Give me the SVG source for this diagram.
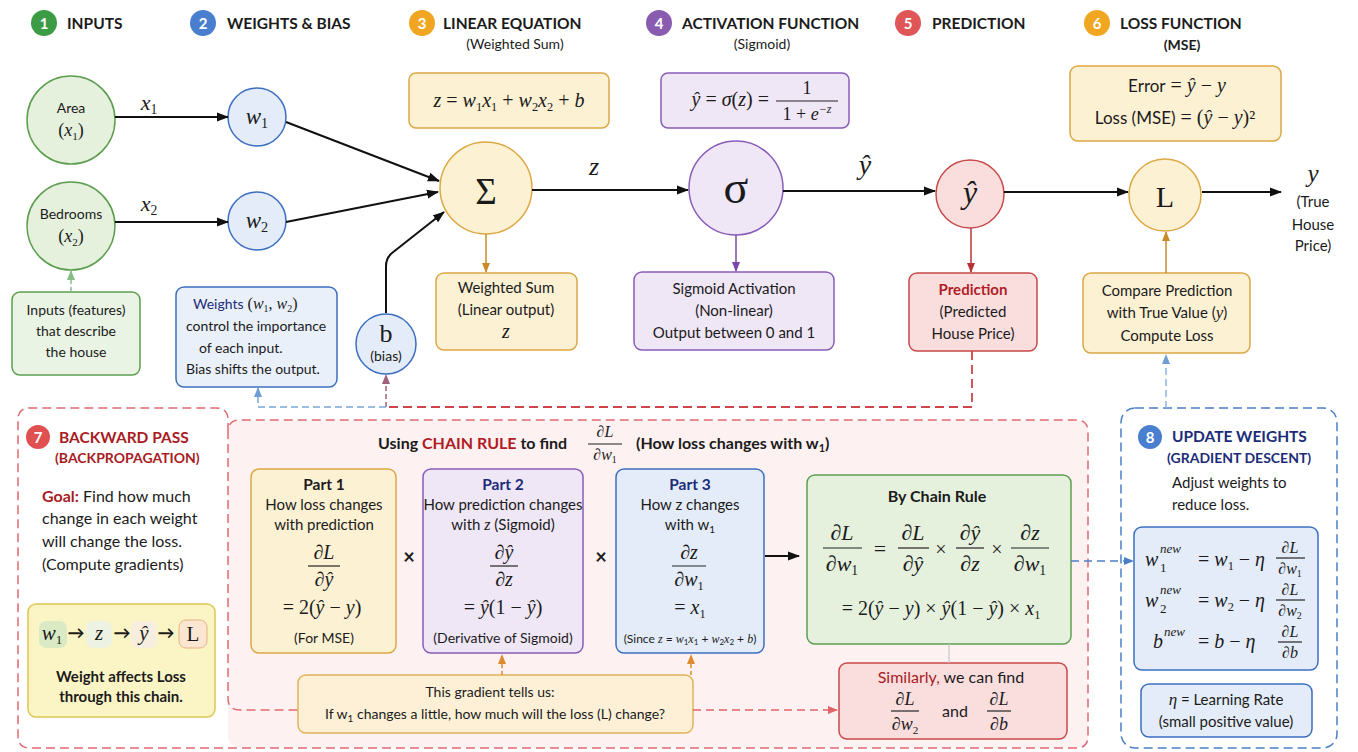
<svg xmlns="http://www.w3.org/2000/svg" width="1358" height="752" viewBox="0 0 1358 752">
<style>
text{font-family:Lato,"Open Sans","Liberation Sans",sans-serif;fill:#1b1b1b}
.hd{font-size:15.5px;font-weight:700}
.bn{font-size:15px;font-weight:700;fill:#fff;text-anchor:middle}
.c{text-anchor:middle}
.t14{font-size:14px}
.t15{font-size:15px}
.t16{font-size:16px}
.b{font-weight:700}
.m{font-family:"Liberation Serif","DejaVu Serif",serif;font-style:italic}
.u{font-style:normal}
.sb{font-size:0.62em;font-style:normal}
.dr{fill:#a81c24}
.nv{fill:#1c2c78}
.gbox{fill:#e5f1dd;stroke:#5e9e50;stroke-width:1.5}
.bbox{fill:#e3ecf8;stroke:#3d6fc0;stroke-width:1.5}
.ybox{fill:#fdf1d3;stroke:#dca844;stroke-width:1.5}
.pbox{fill:#efe6f6;stroke:#8a5cb8;stroke-width:1.5}
.rbox{fill:#fadede;stroke:#c84a4a;stroke-width:1.5}
.fl{stroke:#222;stroke-width:1.2}
.k{stroke:#111;stroke-width:2;fill:none}
</style>
<defs>
<marker id="ak" viewBox="0 0 12 10" refX="11" refY="5" markerWidth="12" markerHeight="10" markerUnits="userSpaceOnUse" orient="auto"><path d="M0,0.5 L12,5 L0,9.5 z" fill="#111"/></marker>
<marker id="ao" viewBox="0 0 10 8" refX="9" refY="4" markerWidth="10" markerHeight="8" markerUnits="userSpaceOnUse" orient="auto"><path d="M0,0 L10,4 L0,8 z" fill="#c88a2a"/></marker>
<marker id="ap" viewBox="0 0 10 8" refX="9" refY="4" markerWidth="10" markerHeight="8" markerUnits="userSpaceOnUse" orient="auto"><path d="M0,0 L10,4 L0,8 z" fill="#7a4aa8"/></marker>
<marker id="ar" viewBox="0 0 10 8" refX="9" refY="4" markerWidth="10" markerHeight="8" markerUnits="userSpaceOnUse" orient="auto"><path d="M0,0 L10,4 L0,8 z" fill="#b83434"/></marker>
<marker id="alb" viewBox="0 0 10 8" refX="9" refY="4" markerWidth="10" markerHeight="8" markerUnits="userSpaceOnUse" orient="auto"><path d="M0,0 L10,4 L0,8 z" fill="#6e9ed6"/></marker>
<marker id="alg" viewBox="0 0 10 8" refX="9" refY="4" markerWidth="10" markerHeight="8" markerUnits="userSpaceOnUse" orient="auto"><path d="M0,0 L10,4 L0,8 z" fill="#86bd86"/></marker>
<marker id="amv" viewBox="0 0 10 8" refX="9" refY="4" markerWidth="10" markerHeight="8" markerUnits="userSpaceOnUse" orient="auto"><path d="M0,0 L10,4 L0,8 z" fill="#a0607e"/></marker>
<marker id="ard" viewBox="0 0 10 8" refX="9" refY="4" markerWidth="10" markerHeight="8" markerUnits="userSpaceOnUse" orient="auto"><path d="M0,0 L10,4 L0,8 z" fill="#e06468"/></marker>
<marker id="aog" viewBox="0 0 10 8" refX="9" refY="4" markerWidth="10" markerHeight="8" markerUnits="userSpaceOnUse" orient="auto"><path d="M0,0 L10,4 L0,8 z" fill="#e08a30"/></marker>
<marker id="abl" viewBox="0 0 10 8" refX="9" refY="4" markerWidth="10" markerHeight="8" markerUnits="userSpaceOnUse" orient="auto"><path d="M0,0 L10,4 L0,8 z" fill="#4a80c8"/></marker>
</defs>
<rect width="1358" height="752" fill="#ffffff"/>

<!-- Headers -->
<g id="h1"><circle cx="44" cy="23" r="13" fill="#3c9c46"/><text x="44" y="28.5" class="bn">1</text><text x="67" y="29" class="hd">INPUTS</text></g>
<g id="h2"><circle cx="203" cy="23" r="13" fill="#4a7fd0"/><text x="203" y="28.5" class="bn">2</text><text x="227" y="29" class="hd">WEIGHTS &amp; BIAS</text></g>
<g id="h3"><circle cx="422" cy="23" r="13" fill="#f0a620"/><text x="422" y="28.5" class="bn">3</text><text x="443" y="29" class="hd">LINEAR EQUATION</text><text x="515" y="49" class="c t14">(Weighted Sum)</text></g>
<g id="h4"><circle cx="659" cy="23" r="13" fill="#8a5cb0"/><text x="659" y="28.5" class="bn">4</text><text x="682" y="29" class="hd">ACTIVATION FUNCTION</text><text x="762" y="49" class="c t14">(Sigmoid)</text></g>
<g id="h5"><circle cx="908" cy="23" r="13" fill="#e05555"/><text x="908" y="28.5" class="bn">5</text><text x="932" y="29" class="hd">PREDICTION</text></g>
<g id="h6"><circle cx="1097" cy="23" r="13" fill="#f0a620"/><text x="1097" y="28.5" class="bn">6</text><text x="1120" y="29" class="hd">LOSS FUNCTION</text><text x="1182" y="50" class="c t14 b">(MSE)</text></g>

<!-- Formula boxes -->
<g id="eq-linear"><rect x="409" y="73" width="200" height="55" rx="7" class="ybox"/>
<text x="509" y="107" class="c m" font-size="20">z <tspan class="u">=</tspan> w<tspan class="sb" dy="4">1</tspan><tspan dy="-4">x</tspan><tspan class="sb" dy="4">1</tspan><tspan dy="-4" class="u"> + </tspan>w<tspan class="sb" dy="4">2</tspan><tspan dy="-4">x</tspan><tspan class="sb" dy="4">2</tspan><tspan dy="-4" class="u"> + </tspan>b</text></g>
<g id="eq-sigmoid"><rect x="661" y="73" width="188" height="55" rx="7" class="pbox"/>
<text x="769" y="106" class="m" font-size="20" text-anchor="end">ŷ <tspan class="u">=</tspan> σ<tspan class="u">(</tspan>z<tspan class="u">) =</tspan></text>
<text x="807" y="94" class="c m u" font-size="18">1</text>
<line x1="776" y1="101" x2="838" y2="101" class="fl"/>
<text x="807" y="120" class="c m" font-size="18"><tspan class="u">1 + </tspan>e<tspan font-size="12" dy="-7">−z</tspan></text></g>
<g id="eq-loss"><rect x="1070" y="66" width="211" height="75" rx="8" class="ybox"/>
<text x="1177" y="92" class="c"><tspan font-size="17">Error</tspan><tspan class="m" font-size="20"><tspan class="u"> = </tspan>ŷ<tspan class="u"> − </tspan>y</tspan></text>
<text x="1175" y="124" class="c"><tspan font-size="17">Loss (MSE)</tspan><tspan class="m" font-size="20"><tspan class="u"> = (</tspan>ŷ<tspan class="u"> − </tspan>y<tspan class="u">)²</tspan></tspan></text></g>

<!-- Forward nodes -->
<g id="n-area"><circle cx="71" cy="120" r="44" class="gbox"/><text x="71" y="113" class="c t14">Area</text><text x="71" y="136" class="c m" font-size="18"><tspan class="u">(</tspan>x<tspan class="sb" dy="4">1</tspan><tspan class="u" dy="-4">)</tspan></text></g>
<g id="n-bed"><circle cx="71" cy="226" r="44" class="gbox"/><text x="71" y="219" class="c t14">Bedrooms</text><text x="71" y="242" class="c m" font-size="18"><tspan class="u">(</tspan>x<tspan class="sb" dy="4">2</tspan><tspan class="u" dy="-4">)</tspan></text></g>
<g id="n-w1"><circle cx="257" cy="117" r="29" class="bbox"/><text x="257" y="124" class="c m" font-size="23">w<tspan class="sb" dy="4">1</tspan></text></g>
<g id="n-w2"><circle cx="257" cy="221" r="29" class="bbox"/><text x="257" y="228" class="c m" font-size="23">w<tspan class="sb" dy="4">2</tspan></text></g>
<g id="n-sum"><circle cx="486" cy="188" r="46" class="ybox"/><text x="486" y="204" class="c m u" font-size="37">Σ</text></g>
<g id="n-sig"><circle cx="736" cy="188" r="47" class="pbox"/><text x="736" y="203" class="c m u" font-size="46">σ</text></g>
<g id="n-yhat"><circle cx="970" cy="194" r="34" class="rbox"/><text x="970" y="203" class="c m" font-size="32">ŷ</text></g>
<g id="n-loss"><circle cx="1165" cy="195" r="36" class="ybox"/><text x="1165" y="207" class="c m u" font-size="30">L</text></g>
<g id="n-bias"><circle cx="386" cy="344" r="30" class="bbox"/><text x="386" y="342" class="c m u" font-size="26">b</text><text x="386" y="361" class="c t14">(bias)</text></g>
<g id="n-ytrue"><text x="1313" y="182" class="c m" font-size="25">y</text><text x="1313" y="207" class="c t15">(True</text><text x="1313" y="230" class="c t15">House</text><text x="1313" y="251" class="c t15">Price)</text></g>

<!-- Edge labels -->
<g id="labels">
<text x="149" y="110" class="c m" font-size="22">x<tspan class="sb" dy="4">1</tspan></text>
<text x="149" y="211" class="c m" font-size="22">x<tspan class="sb" dy="4">2</tspan></text>
<text x="594" y="175" class="c m" font-size="26">z</text>
<text x="865" y="174" class="c m" font-size="28">ŷ</text>
</g>

<!-- Description boxes -->
<g id="d-inputs"><rect x="12" y="292" width="128" height="83" rx="8" class="gbox" style="fill:#eaf4e4"/>
<text x="76" y="315" class="c t14">Inputs (features)</text><text x="76" y="336" class="c t14">that describe</text><text x="76" y="357" class="c t14">the house</text></g>
<g id="d-weights"><rect x="176" y="287" width="161" height="100" rx="8" class="bbox" style="fill:#e9f0fa"/>
<text x="193" y="309" class="t14"><tspan class="nv">Weights</tspan><tspan class="m" font-size="16"><tspan class="u"> (</tspan>w<tspan class="sb" dy="3">1</tspan><tspan class="u" dy="-3">, </tspan>w<tspan class="sb" dy="3">2</tspan><tspan class="u" dy="-3">)</tspan></tspan></text>
<text x="186" y="331" class="t14">control the importance</text>
<text x="199" y="353" class="t14">of each input.</text>
<text x="186" y="374" class="t14">Bias shifts the output.</text></g>
<g id="d-wsum"><rect x="436" y="273" width="141" height="77" rx="8" class="ybox"/>
<text x="506" y="293" class="c t15">Weighted Sum</text><text x="506" y="315" class="c t15">(Linear output)</text><text x="506" y="338" class="c m" font-size="20">z</text></g>
<g id="d-sig"><rect x="634" y="272" width="200" height="78" rx="8" class="pbox"/>
<text x="734" y="294" class="c t15">Sigmoid Activation</text><text x="734" y="316" class="c t15">(Non-linear)</text><text x="734" y="338" class="c t15">Output between 0 and 1</text></g>
<g id="d-pred"><rect x="909" y="273" width="128" height="78" rx="8" class="rbox"/>
<text x="973" y="295" class="c t15 b" style="fill:#b01e28">Prediction</text><text x="973" y="317" class="c t15">(Predicted</text><text x="973" y="339" class="c t15">House Price)</text></g>
<g id="d-comp"><rect x="1083" y="273" width="167" height="80" rx="8" class="ybox"/>
<text x="1167" y="296" class="c t15">Compare Prediction</text><text x="1167" y="318" class="c t15">with True Value (<tspan class="m" font-size="17">y</tspan>)</text><text x="1167" y="341" class="c t15">Compute Loss</text></g>

<!-- Backward pass frame -->
<g id="backward">
<rect x="228" y="420" width="860" height="328" rx="12" fill="#fdf1f1"/>
<path d="M228,432 V420 Q228,408 216,408 H30 Q18,408 18,420 V736 Q18,748 30,748 H1076 Q1088,748 1088,736 V432 Q1088,420 1076,420 H240 Q228,420 228,432 V698 Q228,710 240,710 H298" fill="none" stroke="#de6a70" stroke-width="1.5" stroke-dasharray="9 5"/>
<circle cx="38" cy="437" r="12" fill="#e05050"/><text x="38" y="442.5" class="bn">7</text>
<text x="59" y="443" class="hd dr">BACKWARD PASS</text>
<text x="55" y="463" class="b dr" font-size="14">(BACKPROPAGATION)</text>
<text x="42" y="502" class="t16"><tspan class="b dr">Goal:</tspan> Find how much</text>
<text x="42" y="524" class="t16">change in each weight</text>
<text x="42" y="547" class="t16">will change the loss.</text>
<text x="42" y="570" class="t16">(Compute gradients)</text>
</g>
<g id="chain-box"><rect x="28" y="604" width="187" height="113" rx="8" fill="#fbf5c6" stroke="#dcc850" stroke-width="1.5"/>
<rect x="39" y="621" width="28" height="27" rx="7" fill="#d9eac4"/>
<rect x="86" y="621" width="26" height="27" rx="7" fill="#eef2e2"/>
<rect x="131" y="621" width="26" height="27" rx="7" fill="#f7eee0"/>
<rect x="179" y="620" width="28" height="28" rx="7" fill="#fbe6d2" stroke="#e8b080" stroke-width="1"/>
<text x="52" y="640" class="c m" font-size="21">w<tspan class="sb" dy="4">1</tspan></text>
<text x="76" y="639" class="c b" font-size="17">→</text>
<text x="99" y="640" class="c m" font-size="21">z</text>
<text x="122" y="639" class="c b" font-size="17">→</text>
<text x="144" y="640" class="c m" font-size="21">ŷ</text>
<text x="166" y="639" class="c b" font-size="17">→</text>
<text x="193" y="641" class="c m u" font-size="21">L</text>
<text x="121" y="682" class="c b t15">Weight affects Loss</text>
<text x="121" y="702" class="c b t15">through this chain.</text></g>

<!-- Chain rule title -->
<g id="chain-title">
<text x="378" y="449" class="b t16">Using <tspan style="fill:#b01c24">CHAIN RULE</tspan> to find</text>
<text x="605" y="437" class="c m" font-size="16">∂L</text><line x1="588" y1="444" x2="622" y2="444" class="fl"/><text x="605" y="460" class="c m" font-size="16">∂w<tspan class="sb" dy="3">1</tspan></text>
<text x="636" y="449" class="b t16">(How loss changes with w<tspan font-size="11" dy="3">1</tspan><tspan dy="-3">)</tspan></text>
</g>

<g id="part1"><rect x="251" y="469" width="145" height="184" rx="8" class="ybox"/>
<text x="324" y="490" class="c b" font-size="15.5">Part 1</text>
<text x="324" y="510" class="c t15">How loss changes</text>
<text x="324" y="530" class="c t15">with prediction</text>
<text x="324" y="559" class="c m" font-size="20">∂L</text><line x1="308" y1="566" x2="340" y2="566" class="fl"/><text x="324" y="586" class="c m" font-size="20">∂ŷ</text>
<text x="322" y="614" class="c m" font-size="20"><tspan class="u">=  2(</tspan>ŷ<tspan class="u"> − </tspan>y<tspan class="u">)</tspan></text>
<text x="324" y="643" class="c t14">(For MSE)</text></g>

<g id="part2"><rect x="423" y="469" width="160" height="184" rx="8" class="pbox"/>
<text x="503" y="490" class="c b nv" font-size="15.5">Part 2</text>
<text x="503" y="510" class="c t15">How prediction changes</text>
<text x="503" y="530" class="c t15">with <tspan class="m" font-size="16">z</tspan> (Sigmoid)</text>
<text x="504" y="559" class="c m" font-size="20">∂ŷ</text><line x1="490" y1="566" x2="518" y2="566" class="fl"/><text x="504" y="586" class="c m" font-size="20">∂z</text>
<text x="503" y="614" class="c m" font-size="20"><tspan class="u">= </tspan>ŷ<tspan class="u">(1 − </tspan>ŷ<tspan class="u">)</tspan></text>
<text x="503" y="643" class="c t14">(Derivative of Sigmoid)</text></g>

<g id="part3"><rect x="616" y="469" width="148" height="184" rx="8" class="bbox"/>
<text x="690" y="490" class="c b nv" font-size="15.5">Part 3</text>
<text x="690" y="510" class="c t15">How z changes</text>
<text x="690" y="530" class="c t15">with w<tspan font-size="10" dy="3">1</tspan></text>
<text x="689" y="559" class="c m" font-size="20">∂z</text><line x1="672" y1="566" x2="706" y2="566" class="fl"/><text x="689" y="586" class="c m" font-size="20">∂w<tspan class="sb" dy="4">1</tspan></text>
<text x="690" y="614" class="c m" font-size="20"><tspan class="u">= </tspan>x<tspan class="sb" dy="4">1</tspan></text>
<text x="690" y="643" class="c" font-size="12">(Since <tspan class="m">z</tspan> = <tspan class="m">w</tspan><tspan font-size="8" dy="2">1</tspan><tspan class="m" dy="-2">x</tspan><tspan font-size="8" dy="2">1</tspan><tspan dy="-2"> + </tspan><tspan class="m">w</tspan><tspan font-size="8" dy="2">2</tspan><tspan class="m" dy="-2">x</tspan><tspan font-size="8" dy="2">2</tspan><tspan dy="-2"> + </tspan><tspan class="m">b</tspan>)</text></g>

<g id="times"><text x="409" y="564" class="c b" font-size="20">×</text><text x="601" y="564" class="c b" font-size="20">×</text></g>

<g id="chain-result"><rect x="807" y="475" width="264" height="169" rx="8" class="gbox"/>
<text x="937" y="502" class="c b t16">By Chain Rule</text>
<text x="842" y="540" class="c m" font-size="22">∂L</text><line x1="823" y1="548" x2="862" y2="548" class="fl"/><text x="842" y="571" class="c m" font-size="22">∂w<tspan class="sb" dy="4">1</tspan></text>
<text x="880" y="556" class="c m u" font-size="22">=</text>
<text x="913" y="540" class="c m" font-size="22">∂L</text><line x1="898" y1="548" x2="929" y2="548" class="fl"/><text x="913" y="571" class="c m" font-size="22">∂ŷ</text>
<text x="941" y="556" class="c m u" font-size="20">×</text>
<text x="970" y="540" class="c m" font-size="22">∂ŷ</text><line x1="956" y1="548" x2="984" y2="548" class="fl"/><text x="970" y="571" class="c m" font-size="22">∂z</text>
<text x="997" y="556" class="c m u" font-size="20">×</text>
<text x="1030" y="540" class="c m" font-size="22">∂z</text><line x1="1011" y1="548" x2="1049" y2="548" class="fl"/><text x="1030" y="571" class="c m" font-size="22">∂w<tspan class="sb" dy="4">1</tspan></text>
<text x="941" y="615" class="c m" font-size="20"><tspan class="u">= 2(</tspan>ŷ<tspan class="u"> − </tspan>y<tspan class="u">) × </tspan>ŷ<tspan class="u">(1 − </tspan>ŷ<tspan class="u">) × </tspan>x<tspan class="sb" dy="4">1</tspan></text></g>

<g id="similarly"><rect x="839" y="663" width="228" height="76" rx="8" class="rbox"/>
<text x="951" y="683" class="c t16"><tspan class="dr">Similarly,</tspan> we can find</text>
<text x="905" y="705" class="c m" font-size="18">∂L</text><line x1="891" y1="711" x2="919" y2="711" class="fl"/><text x="905" y="730" class="c m" font-size="18">∂w<tspan class="sb" dy="4">2</tspan></text>
<text x="955" y="717" class="c t16">and</text>
<text x="999" y="705" class="c m" font-size="18">∂L</text><line x1="987" y1="711" x2="1011" y2="711" class="fl"/><text x="999" y="730" class="c m" font-size="18">∂b</text></g>

<g id="gradient-note"><rect x="298" y="675" width="395" height="58" rx="8" fill="#fdf0d6" stroke="#e0b458" stroke-width="1.5"/>
<text x="490" y="697" class="c t14">This gradient tells us:</text>
<text x="495" y="719" class="c t14">If w<tspan font-size="10" dy="3">1</tspan><tspan dy="-3"> changes a little, how much will the loss (L) change?</tspan></text></g>

<!-- Update weights -->
<g id="update"><rect x="1121" y="408" width="216" height="340" rx="14" fill="#ffffff" stroke="#4a80c8" stroke-width="1.5" stroke-dasharray="9 5"/>
<circle cx="1150" cy="437" r="12" fill="#4a7fd0"/><text x="1150" y="442.5" class="bn">8</text>
<text x="1172" y="442" class="hd nv">UPDATE WEIGHTS</text>
<text x="1167" y="463" class="b nv" font-size="14">(GRADIENT DESCENT)</text>
<text x="1172" y="488" class="t15">Adjust weights to</text>
<text x="1172" y="510" class="t15">reduce loss.</text>
<rect x="1134" y="527" width="184" height="143" rx="8" class="bbox"/>
<text x="1145" y="566" class="m" font-size="20">w</text><text x="1160" y="553" class="m" font-size="13">new</text><text x="1160" y="572" class="m u" font-size="13">1</text>
<text x="1198" y="566" class="m" font-size="20"><tspan class="u">= </tspan>w<tspan class="sb" dy="4">1</tspan><tspan class="u" dy="-4"> − </tspan>η</text>
<text x="1290" y="553" class="c m" font-size="16">∂L</text><line x1="1276" y1="558" x2="1305" y2="558" class="fl"/><text x="1290" y="574" class="c m" font-size="16">∂w<tspan class="sb" dy="3">1</tspan></text>
<text x="1145" y="607" class="m" font-size="20">w</text><text x="1160" y="594" class="m" font-size="13">new</text><text x="1160" y="613" class="m u" font-size="13">2</text>
<text x="1198" y="607" class="m" font-size="20"><tspan class="u">= </tspan>w<tspan class="sb" dy="4">2</tspan><tspan class="u" dy="-4"> − </tspan>η</text>
<text x="1290" y="595" class="c m" font-size="16">∂L</text><line x1="1276" y1="600" x2="1305" y2="600" class="fl"/><text x="1290" y="616" class="c m" font-size="16">∂w<tspan class="sb" dy="3">2</tspan></text>
<text x="1153" y="648" class="m" font-size="20">b</text><text x="1164" y="636" class="m" font-size="13">new</text>
<text x="1198" y="648" class="m" font-size="20"><tspan class="u">=  </tspan>b<tspan class="u"> − </tspan>η</text>
<text x="1290" y="637" class="c m" font-size="16">∂L</text><line x1="1278" y1="642" x2="1302" y2="642" class="fl"/><text x="1290" y="658" class="c m" font-size="16">∂b</text>
<rect x="1141" y="684" width="171" height="53" rx="8" class="bbox"/>
<text x="1226" y="705" class="c t15"><tspan class="m" font-size="17">η</tspan> = Learning Rate</text>
<text x="1226" y="727" class="c t15">(small positive value)</text></g>

<!-- Connectors -->
<g id="connectors" fill="none">
<path d="M115,117 H228" class="k" marker-end="url(#ak)"/>
<path d="M115,222 H228" class="k" marker-end="url(#ak)"/>
<path d="M286,122 L439,181" class="k" marker-end="url(#ak)"/>
<path d="M286,222 L438,192" class="k" marker-end="url(#ak)"/>
<path d="M386,313 V266 Q386,258 392,253 L444,212" class="k" marker-end="url(#ak)"/>
<path d="M532,190 H688" class="k" marker-end="url(#ak)"/>
<path d="M783,191 H935" class="k" marker-end="url(#ak)"/>
<path d="M1004,192 H1128" class="k" marker-end="url(#ak)"/>
<path d="M1202,192 H1281" class="k" marker-end="url(#ak)"/>
<path d="M765,556 H799" class="k" marker-end="url(#ak)"/>
<path d="M486,234 V272" stroke="#c88a2a" stroke-width="1.5" marker-end="url(#ao)"/>
<path d="M736,235 V271" stroke="#7a4aa8" stroke-width="1.5" marker-end="url(#ap)"/>
<path d="M971,228 V272" stroke="#b83434" stroke-width="1.5" marker-end="url(#ar)"/>
<path d="M1166,273 V232" stroke="#c88a2a" stroke-width="1.5" marker-end="url(#ao)"/>
<path d="M71,292 V271" stroke="#86bd86" stroke-width="1.5" stroke-dasharray="5 3" marker-end="url(#alg)"/>
<path d="M972,351 V407 H386" stroke="#d0444c" stroke-width="1.8" stroke-dasharray="9 5"/>
<path d="M386,407 V375" stroke="#a0607e" stroke-width="1.5" stroke-dasharray="5 3" marker-end="url(#amv)"/>
<path d="M386,407 H258 V388" stroke="#7aa6d8" stroke-width="1.5" stroke-dasharray="7 4" marker-end="url(#alb)"/>
<path d="M1166,408 V355" stroke="#8ab2e0" stroke-width="1.5" stroke-dasharray="7 4" marker-end="url(#alb)"/>
<path d="M502,675 V655" stroke="#e08a30" stroke-width="1.5" stroke-dasharray="4 3" marker-end="url(#aog)"/>
<path d="M691,675 V655" stroke="#e08a30" stroke-width="1.5" stroke-dasharray="4 3" marker-end="url(#aog)"/>
<path d="M693,710 H837" stroke="#e06468" stroke-width="1.5" stroke-dasharray="8 5" marker-end="url(#ard)"/>
<path d="M949,644 V663" stroke="#c8c8c8" stroke-width="1.2"/>
<path d="M1071,561 H1133" stroke="#4a80c8" stroke-width="1.5" stroke-dasharray="8 5" marker-end="url(#abl)"/>
</g>
</svg>
